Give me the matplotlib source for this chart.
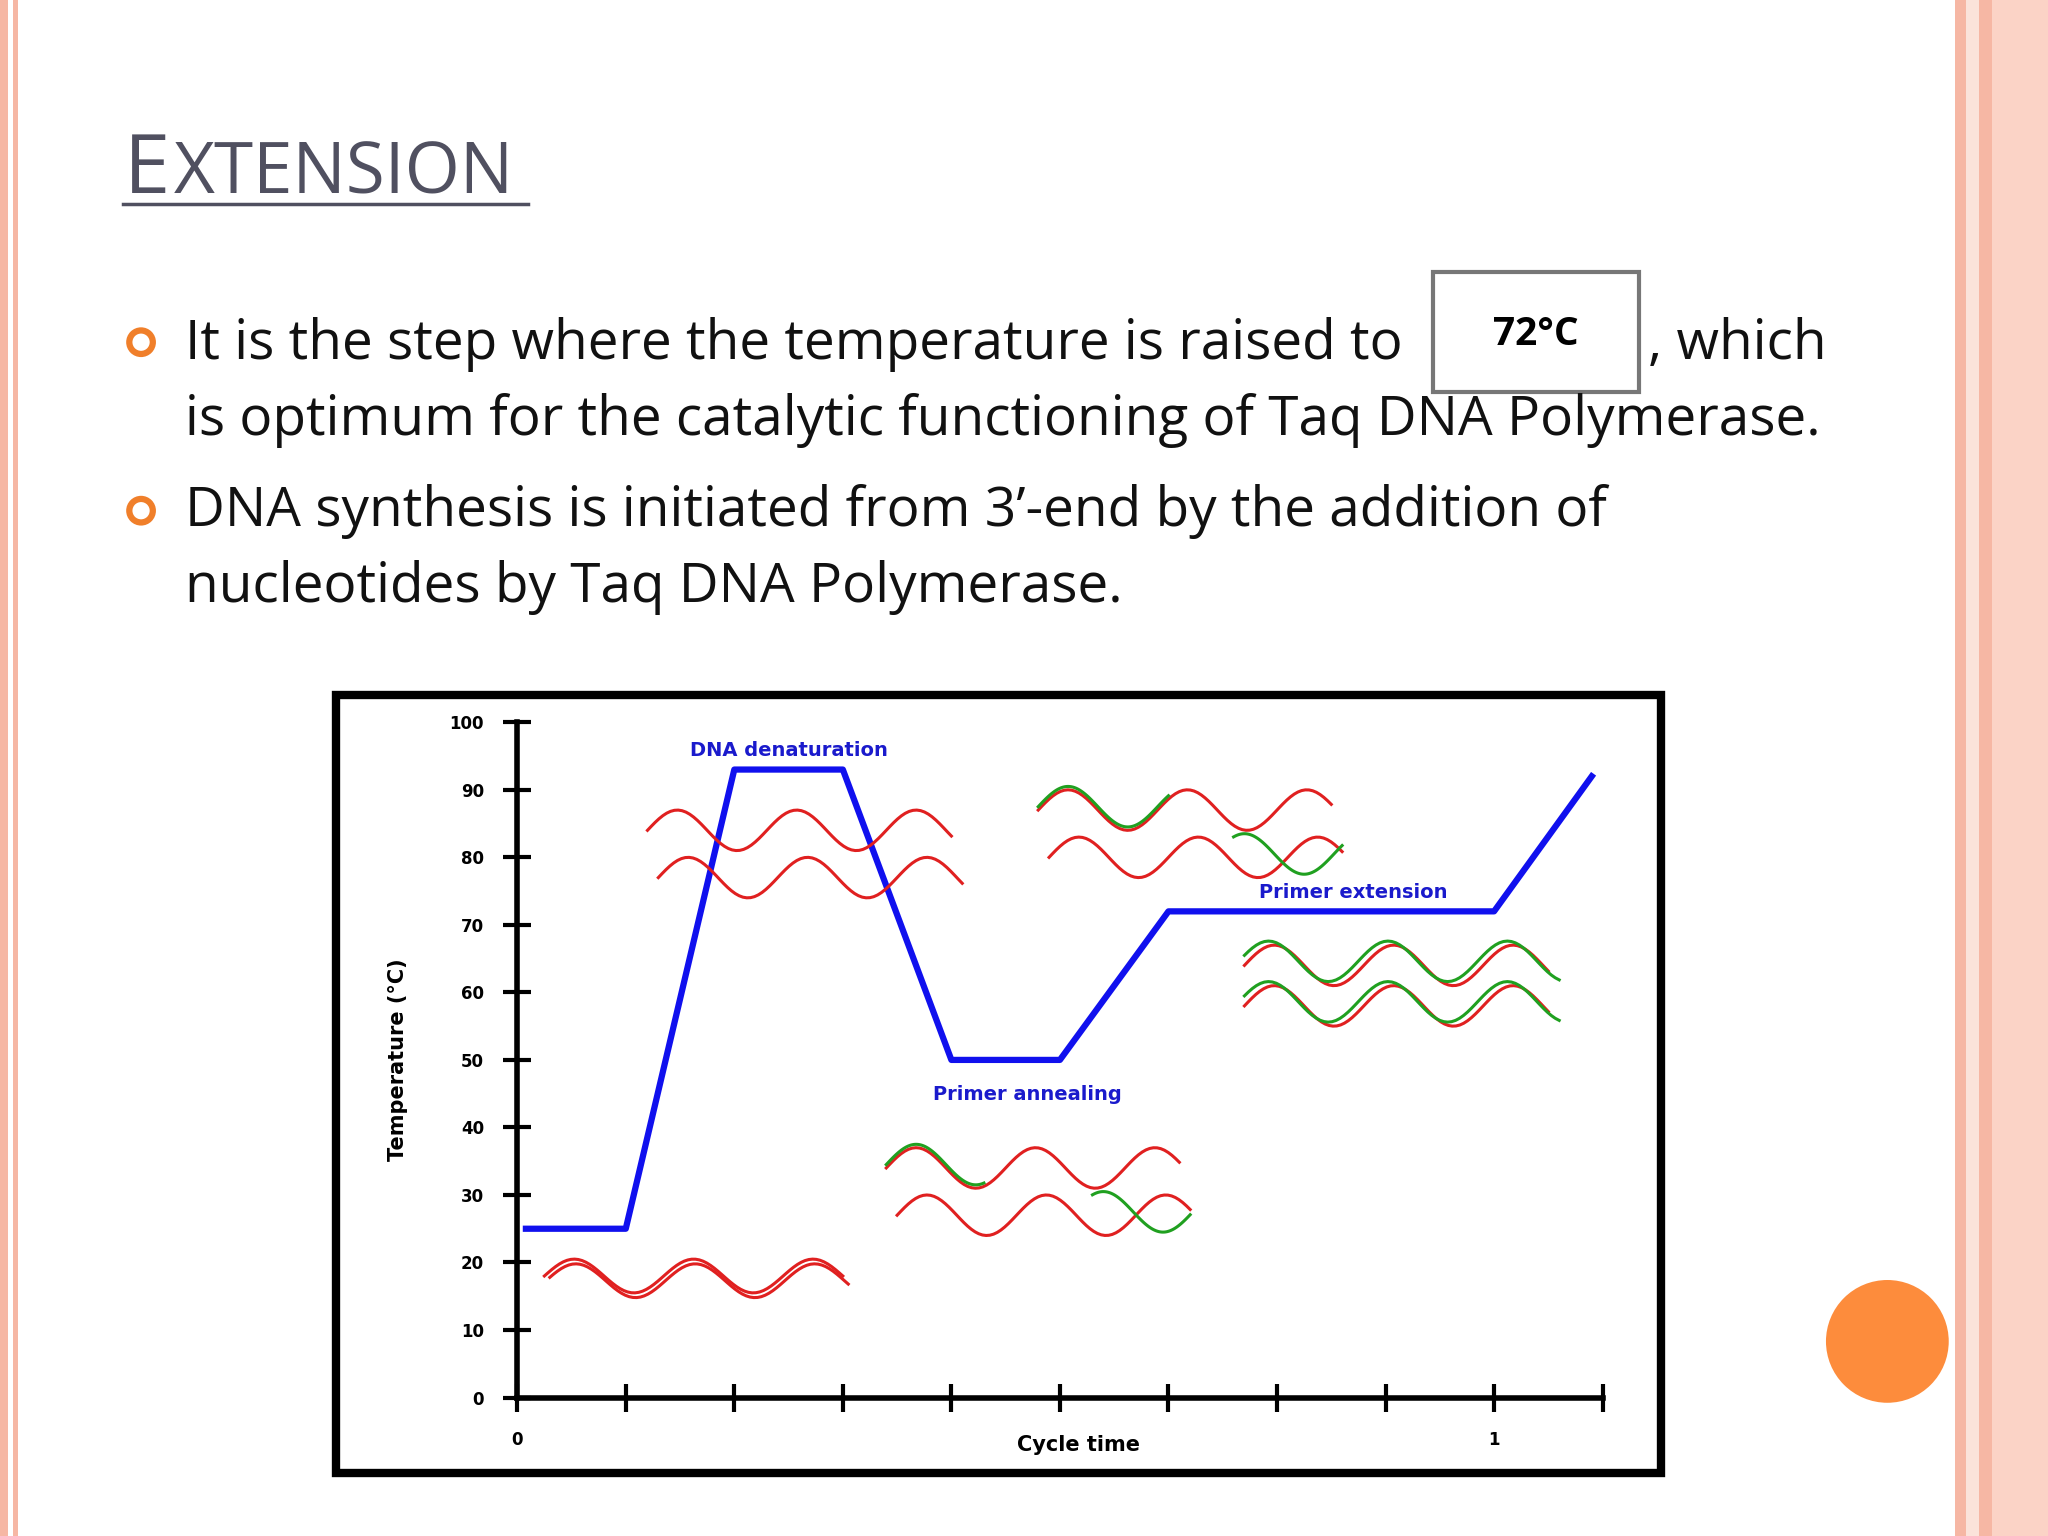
import numpy as np
import matplotlib
matplotlib.use("Agg")
import matplotlib.pyplot as plt
from matplotlib.patches import Rectangle, Ellipse

plt.rcParams['font.family'] = ['Open Sans', 'DejaVu Sans']

# data
cycle_x = [0.08, 1.0, 2.0, 3.0, 4.0, 5.0, 6.0, 9.0, 9.9]
temp_y = [25, 25, 93, 93, 50, 50, 72, 72, 92]
yticks = [0, 10, 20, 30, 40, 50, 60, 70, 80, 90, 100]
xticks = list(range(11))
xtick_labels = {0: "0", 9: "1"}
stage_labels = [("DNA denaturation", 2.5, 95), ("Primer annealing", 4.7, 44),
                ("Primer extension", 7.7, 74)]
bullets = ["It is the step where the temperature is raised to",
           "is optimum for the catalytic functioning of Taq DNA Polymerase.",
           "DNA synthesis is initiated from 3\u2019-end by the addition of",
           "nucleotides by Taq DNA Polymerase."]

fig = plt.figure(figsize=(20.48, 15.36), dpi=100)
fig.patch.set_facecolor("white")
W, H = 1568, 1176
def fx(p): return p / W
def fy(p): return 1 - p / H
def circ(xc, yc, r, **kw):
    return Ellipse((fx(xc), fy(yc)), 2 * r / W, 2 * r / H, transform=fig.transFigure, **kw)

# border decorations
for x0, x1, c in [(0, 6, "#f6b7a4"), (10, 14, "#f6b7a4"), (1497, 1505, "#f6b7a4"),
                  (1505, 1515, "#fbe3da"), (1515, 1525, "#f6b7a4"), (1525, 1568, "#fbd3c6")]:
    fig.add_artist(Rectangle((fx(x0), 0), fx(x1 - x0), 1, transform=fig.transFigure,
                             color=c, lw=0))

# title
fig.text(fx(95), fy(148), "E", fontsize=60, color="#505060", ha="left", va="baseline")
fig.text(fx(133), fy(148), "XTENSION", fontsize=51, color="#505060", ha="left", va="baseline")
fig.add_artist(plt.Line2D([fx(94), fx(404)], [fy(156), fy(156)], color="#505060", lw=2.5))

# bullets
fs = 39.5
for yy, txt in zip([275, 333, 403, 461], bullets):
    fig.text(fx(142), fy(yy), txt, fontsize=fs, ha="left", va="baseline", color="#111111")
for yy in [262, 391]:
    fig.add_artist(circ(108, yy, 9, fill=False, ec="#f07f2a", lw=4.5))
fig.text(fx(1262), fy(275), ", which", fontsize=fs, ha="left", va="baseline", color="#111111")
fig.add_artist(Rectangle((fx(1097), fy(300)), fx(158), fy(208) - fy(300),
                         transform=fig.transFigure, fill=False, ec="#777777", lw=3))
fig.text(fx(1176), fy(256), "72°C", fontsize=28, fontweight="bold", ha="center", va="center")

# chart frame
fig.add_artist(Rectangle((fx(257), fy(1128)), fx(1015), fy(532) - fy(1128),
                         transform=fig.transFigure, fill=False, ec="black", lw=6))

dv = ['DejaVu Sans']
ax = fig.add_axes([fx(396), fy(1070), fx(1227 - 396), fy(553) - fy(1070)])
ax.set_xlim(0, 10)
ax.set_ylim(0, 100)
ax.patch.set_alpha(0)
for s in ["top", "right"]:
    ax.spines[s].set_visible(False)
for s in ["left", "bottom"]:
    ax.spines[s].set_linewidth(4)
ax.set_yticks(yticks)
ax.set_yticklabels([str(v) for v in yticks], fontsize=12, fontweight="bold", family=dv)
ax.set_xticks(xticks)
ax.set_xticklabels([xtick_labels.get(v, "") for v in xticks], fontsize=12, fontweight="bold", family=dv)
ax.tick_params(axis="y", direction="inout", length=20, width=3, pad=14)
ax.tick_params(axis="x", direction="inout", length=20, width=3, pad=14)
ax.set_ylabel("Temperature (°C)", fontsize=15, fontweight="bold", labelpad=30, family=dv)
ax.set_xlabel("Cycle time", fontsize=15, fontweight="bold", family=dv)
ax.xaxis.set_label_coords(0.517, -0.055)
ax.plot(cycle_x, temp_y, color="#1010ee", lw=4.5, clip_on=False)
for t, x, y in stage_labels:
    ax.text(x, y, t, color="#1a1acc", fontsize=14, fontweight="bold", ha="center", family=dv)

# decorative strands
def strand(x0, x1, yc, amp, color, off=0.0):
    t = np.linspace(x0, x1, 80)
    ax.plot(t, yc + amp * np.sin((t - x0) * 2 * np.pi / 1.1 + off), color=color, lw=2.2)
strand(0.25, 3.0, 18, 2.5, "#e02020"); strand(0.3, 3.05, 17.3, 2.5, "#e02020", 0.2)
strand(1.2, 4.0, 84, 3, "#e02020"); strand(1.3, 4.1, 77, 3, "#e02020")
strand(4.8, 7.5, 87, 3, "#e02020"); strand(4.9, 7.6, 80, 3, "#e02020")
strand(4.8, 6.0, 87.5, 3, "#20a020"); strand(6.6, 7.6, 80.5, 3, "#20a020", 1)
strand(3.4, 6.1, 34, 3, "#e02020"); strand(3.5, 6.2, 27, 3, "#e02020")
strand(3.4, 4.3, 34.5, 3, "#20a020"); strand(5.3, 6.2, 27.5, 3, "#20a020", 1)
for yc in [64, 58]:
    strand(6.7, 9.5, yc, 3, "#e02020"); strand(6.7, 9.6, yc + 0.6, 3, "#20a020", 0.3)

fig.add_artist(circ(1445, 1027, 47, color="#fd8c3c", lw=0))

fig.savefig("out.png", dpi=100)
